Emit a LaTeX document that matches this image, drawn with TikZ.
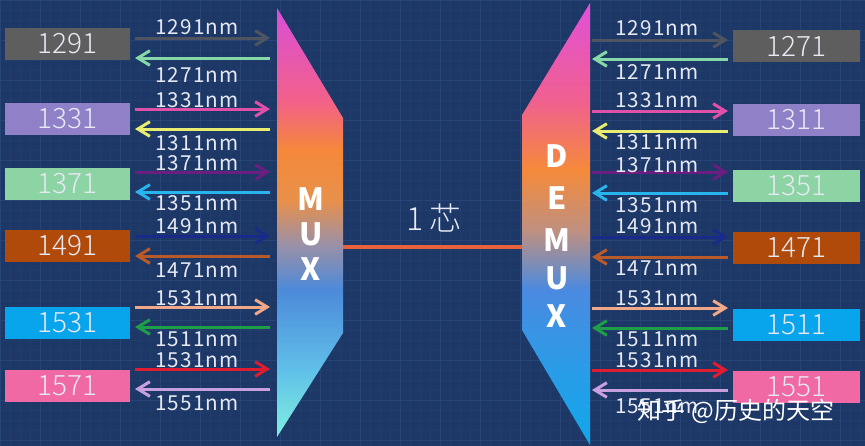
\documentclass[tikz,border=0pt]{standalone}
\usepackage{fontspec}
\setmainfont{Noto Sans CJK SC}
\newfontfamily\lightf{Noto Sans CJK SC}[UprightFont={* Light}]
\newfontfamily\labelf{Noto Sans CJK SC}[LetterSpace=6]
\usetikzlibrary{arrows.meta}
\definecolor{bg}{HTML}{1D3766}
\definecolor{gridminor}{HTML}{213D6C}
\definecolor{gridmajor}{HTML}{264475}
\definecolor{txt}{HTML}{E6E9F2}
\definecolor{fibercol}{HTML}{E8623C}
% arrow colours
\definecolor{a1}{HTML}{4E5560}\definecolor{b1}{HTML}{86D8A8}
\definecolor{a2}{HTML}{E050A8}\definecolor{b2}{HTML}{E8EC70}
\definecolor{a3}{HTML}{6A1E80}\definecolor{b3}{HTML}{28B4EC}
\definecolor{a4}{HTML}{1A2A8A}\definecolor{b4}{HTML}{B85A2A}
\definecolor{a5}{HTML}{F0A888}\definecolor{b5}{HTML}{1E9E48}
\definecolor{a6}{HTML}{E01C30}\definecolor{b6}{HTML}{C8A0E0}
% box colours
\definecolor{x1}{HTML}{5E5E5E}
\definecolor{x2}{HTML}{9080C8}
\definecolor{x3}{HTML}{8CD4A4}
\definecolor{x4}{HTML}{B04A0A}
\definecolor{x5}{HTML}{08A4EC}
\definecolor{x6}{HTML}{F068A4}
% gradient colours
\definecolor{mA}{HTML}{80F0E0}
\definecolor{mB}{HTML}{60C0E8}
\definecolor{mC}{HTML}{4C8ADA}
\definecolor{mD}{HTML}{9A90A8}
\definecolor{mE}{HTML}{E8904A}
\definecolor{mF}{HTML}{F5883A}
\definecolor{mG}{HTML}{F2608A}
\definecolor{mH}{HTML}{D94FD8}
\definecolor{dA}{HTML}{10A8EA}
\definecolor{dB}{HTML}{2A9CE8}
\definecolor{dC}{HTML}{4A8AE0}
\definecolor{dD}{HTML}{C09080}
\definecolor{dE}{HTML}{F58A3A}
\definecolor{dF}{HTML}{F06090}
\definecolor{dG}{HTML}{E050D8}
\pgfdeclareverticalshading{muxshade}{100bp}{color(0bp)=(mA); color(25bp)=(mA); color(32.8bp)=(mB); color(42.1bp)=(mC); color(47.4bp)=(mD); color(52.6bp)=(mE); color(58.4bp)=(mF); color(64.3bp)=(mG); color(75bp)=(mH); color(100bp)=(mH)}
\pgfdeclareverticalshading{demuxshade}{100bp}{color(0bp)=(dA); color(25bp)=(dA); color(33.5bp)=(dB); color(42.5bp)=(dC); color(49.3bp)=(dD); color(56.1bp)=(dE); color(64bp)=(dF); color(75bp)=(dG); color(100bp)=(dG)}
\tikzset{
  numbox/.style={inner sep=0pt, minimum height=24pt, text=txt, font=\lightf\fontsize{21}{21}\selectfont},
  nmlabel/.style={inner sep=0pt, text=txt, font=\labelf\fontsize{15.5}{15.5}\selectfont},
  wdm/.style={line width=2.25pt, -{Straight Barb[length=9pt,width=11pt]}},
  muxletter/.style={inner sep=0pt, text=white, font=\bfseries\fontsize{23}{23}\selectfont},
  fiber/.style={line width=3pt, draw=fibercol},
}
\begin{document}
\begin{tikzpicture}[x=0.75pt,y=-0.75pt]
\useasboundingbox (0,0) rectangle (865,446);
\fill[bg] (0,0) rectangle (865,446);
% grid
\foreach \gx in {0,10,...,860} \draw[gridminor, line width=0.3pt] (\gx,0) -- (\gx,446);
\foreach \gy in {0,10,...,440} \draw[gridminor, line width=0.3pt] (0,\gy) -- (865,\gy);
\foreach \gx in {0,40,...,860} \draw[gridmajor, line width=0.5pt] (\gx,0) -- (\gx,446);
\foreach \gy in {0,40,...,440} \draw[gridmajor, line width=0.5pt] (0,\gy) -- (865,\gy);

% MUX and DEMUX
\path[shading=muxshade] (277,8) -- (343,118) -- (343,333) -- (277,437) -- cycle;
\path[shading=demuxshade] (590,3) -- (590,445) -- (522,330) -- (522,115) -- cycle;
\coordinate (muxE) at (343,247);
\coordinate (demuxW) at (522,247);
\draw[fiber] (muxE) -- (demuxW);
\node[inner sep=0pt, text=txt, font=\lightf\fontsize{24}{24}\selectfont] (core) at (434,218) {1\hspace{4pt}芯};

\node[muxletter] (mM) at (311,199) {M};
\node[muxletter] (mU) at (311,234) {U};
\node[muxletter] (mX) at (311,269) {X};
\node[muxletter] (dD) at (557,156) {D};
\node[muxletter] (dE) at (557,198) {E};
\node[muxletter] (dM) at (557,240) {M};
\node[muxletter] (dU) at (557,278) {U};
\node[muxletter] (dX) at (557,316) {X};

% left boxes
\foreach \i/\cy/\t in {1/44/1291, 2/118.5/1331, 3/184/1371, 4/246/1491, 5/323/1531, 6/386/1571}
  \node[numbox, fill=x\i, minimum width=93.75pt] (L\i) at (67.5,\cy) {\t};
% right boxes
\foreach \i/\cy/\t in {1/46/1271, 2/120/1311, 3/186/1351, 4/247.5/1471, 5/324.5/1511, 6/387/1551}
  \node[numbox, fill=x\i, minimum width=95.25pt] (R\i) at (796.5,\cy) {\t};

% left arrows and labels
\foreach \i/\ya/\yb/\la/\lb/\ta/\tb in {1/38/58/27/75/1291nm/1271nm, 2/109/129/100/143/1331nm/1311nm, 3/172/192/163/203/1371nm/1351nm, 4/236/256/226/270/1491nm/1471nm, 5/307/327/298/339/1531nm/1511nm, 6/369/389/360/403/1531nm/1551nm}{
  \coordinate (LA\i s) at (135,\ya);
  \coordinate (LA\i e) at (270,\ya);
  \coordinate (LB\i s) at (270,\yb);
  \coordinate (LB\i e) at (135,\yb);
  \draw[wdm, draw=a\i] (LA\i s) -- (LA\i e);
  \draw[wdm, draw=b\i] (LB\i s) -- (LB\i e);
  \node[nmlabel] (LT\i) at (197,\la) {\ta};
  \node[nmlabel] (LU\i) at (197,\lb) {\tb};
}
% right arrows and labels
\foreach \i/\ya/\yb/\la/\lb/\ta/\tb in {1/40/59/28/72/1291nm/1271nm, 2/111/131/100/142/1331nm/1311nm, 3/172/193/165/205/1371nm/1351nm, 4/237/257/226/268/1491nm/1471nm, 5/308/328/298/339/1531nm/1511nm, 6/370/390/360/406/1531nm/1551nm}{
  \coordinate (RA\i s) at (592,\ya);
  \coordinate (RA\i e) at (728,\ya);
  \coordinate (RB\i s) at (728,\yb);
  \coordinate (RB\i e) at (592,\yb);
  \draw[wdm, draw=a\i] (RA\i s) -- (RA\i e);
  \draw[wdm, draw=b\i] (RB\i s) -- (RB\i e);
  \node[nmlabel] (RT\i) at (657,\la) {\ta};
  \node[nmlabel] (RU\i) at (657,\lb) {\tb};
}
% watermark
\node[inner sep=0pt, text=white, font=\fontsize{18}{18}\selectfont] (wm) at (736,411) {知乎 @历史的天空};
\end{tikzpicture}
\end{document}
